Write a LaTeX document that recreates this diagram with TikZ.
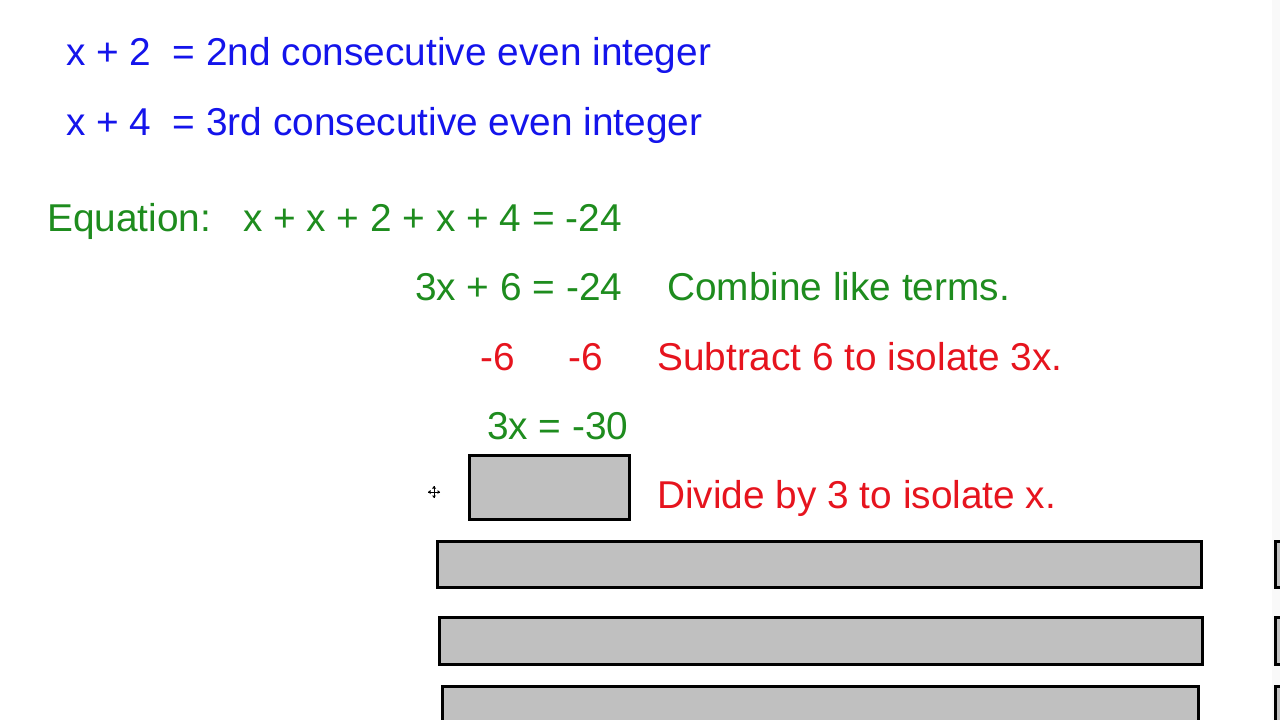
\documentclass[tikz,border=0pt]{standalone}
\usepackage{fontspec}
\setmainfont{Liberation Sans}
\definecolor{tblue}{RGB}{20,20,235}
\definecolor{tgreen}{RGB}{30,140,30}
\definecolor{tred}{RGB}{230,20,30}
\definecolor{boxgray}{RGB}{192,192,192}
\begin{document}
\begin{tikzpicture}[x=1pt,y=-1pt,
  txt/.style={anchor=base west,inner sep=0pt,font=\fontsize{38.8}{44}\selectfont},
  gbox/.style={draw=black,line width=3pt,fill=boxgray}]
\useasboundingbox (0,0) rectangle (1280,720);
\fill[gray!5] (1272,0) rectangle (1280,720);
\node[txt,text=tblue] (l1) at (66,65) {x + 2\ \ = 2nd consecutive even integer};
\node[txt,text=tblue] (l2) at (66,135) {x + 4\ \ = 3rd consecutive even integer};
\node[txt,text=tgreen] (eq) at (47,231) {Equation:};
\node[txt,text=tgreen] (eq1) at (243,231) {x + x + 2 + x + 4 = -24};
\node[txt,text=tgreen] (eq2) at (415,300) {3x + 6 = -24};
\node[txt,text=tgreen] (c1) at (667,300) {Combine like terms.};
\node[txt,text=tred] (m1) at (480,370) {-6};
\node[txt,text=tred] (m2) at (568,370) {-6};
\node[txt,text=tred] (c2) at (657,370) {Subtract 6 to isolate 3x.};
\node[txt,text=tgreen] (eq3) at (487,439) {3x = -30};
\node[txt,text=tred] (c3) at (657,508) {Divide by 3 to isolate x.};
\draw[gbox] (469,455) rectangle (629,519);
\draw[gbox] (437,541) rectangle (1201,587);
\draw[gbox] (439,617) rectangle (1202,664);
\draw[gbox] (442,686) rectangle (1198,730);
\draw[gbox] (1275,541) rectangle (1300,587);
\draw[gbox] (1275,617) rectangle (1300,664);
\draw[gbox] (1275,686) rectangle (1300,730);
% move cursor
\draw[black,line width=0.7pt] (428,492) -- (440,492) (434,486) -- (434,498);
\fill (428,492) -- (430.5,490) -- (430.5,494) -- cycle;
\fill (440,492) -- (437.5,490) -- (437.5,494) -- cycle;
\fill (434,486) -- (432,488.5) -- (436,488.5) -- cycle;
\fill (434,498) -- (432,495.5) -- (436,495.5) -- cycle;
\end{tikzpicture}
\end{document}
